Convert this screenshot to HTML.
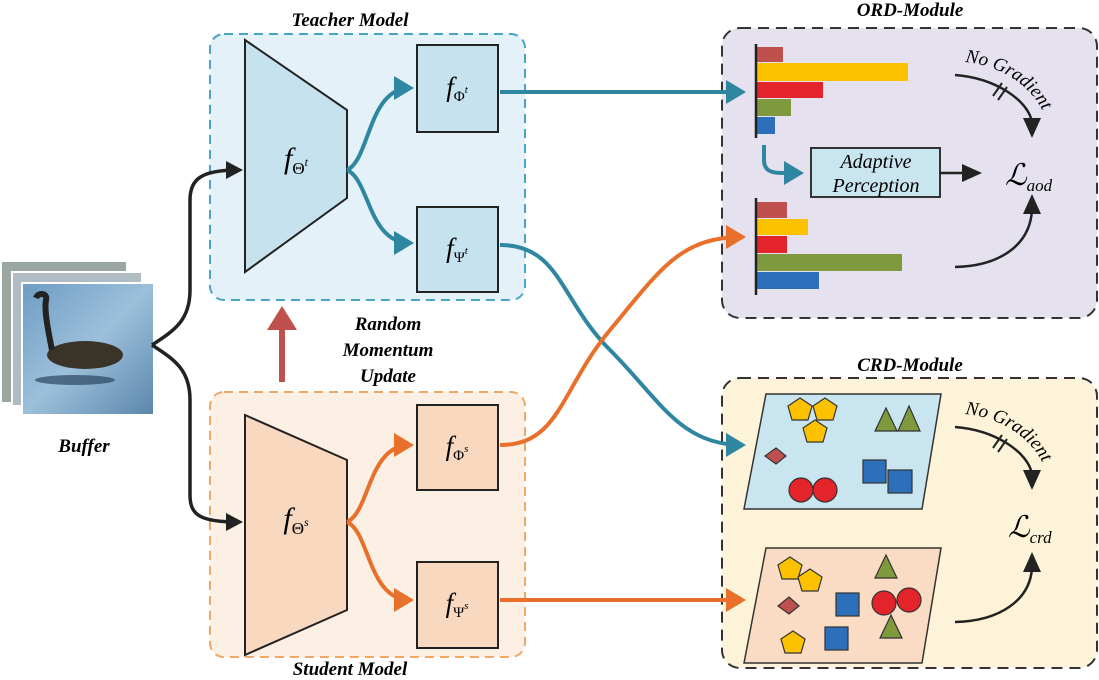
<!DOCTYPE html>
<html><head><meta charset="utf-8"><style>
html,body{margin:0;padding:0;background:#fff}
svg{display:block}
text{font-family:"Liberation Serif",serif}
.t{font-weight:bold;font-style:italic;font-size:19px}
</style></head><body>
<svg width="1099" height="680" viewBox="0 0 1099 680" xmlns="http://www.w3.org/2000/svg">
<defs>
<marker id="ab" markerWidth="9" markerHeight="9" refX="6" refY="4" orient="auto" markerUnits="strokeWidth"><path d="M0,0 L8,4 L0,8 z" fill="#222"/></marker>
<marker id="at" markerWidth="6" markerHeight="6" refX="4" refY="3" orient="auto" markerUnits="strokeWidth"><path d="M0,0 L5,3 L0,6 z" fill="#2e86a0"/></marker>
<marker id="ao" markerWidth="6" markerHeight="6" refX="4" refY="3" orient="auto" markerUnits="strokeWidth"><path d="M0,0 L5,3 L0,6 z" fill="#e8702a"/></marker>
<marker id="ar" markerWidth="5" markerHeight="5" refX="3" refY="2.5" orient="auto" markerUnits="strokeWidth"><path d="M0,0 L4,2.5 L0,5 z" fill="#c0504d"/></marker>
<linearGradient id="wg" x1="0" y1="0" x2="1" y2="1"><stop offset="0" stop-color="#6e9cc4"/><stop offset="0.5" stop-color="#9cc0da"/><stop offset="1" stop-color="#5a86ac"/></linearGradient>
<path id="ng1" d="M965,62 C1005,66 1040,90 1050,130"/>
<path id="ng2" d="M965,414 C1005,418 1040,442 1050,482"/>
</defs>

<rect x="210" y="34" width="315" height="266" rx="14" fill="#e4f1f8" stroke="#4aa3c8" stroke-width="2" stroke-dasharray="9,6"/>
<rect x="210" y="392" width="315" height="265" rx="14" fill="#fcefe4" stroke="#f0a868" stroke-width="2" stroke-dasharray="9,6"/>
<rect x="722" y="28" width="375" height="290" rx="18" fill="#e6e1ee" stroke="#333" stroke-width="2" stroke-dasharray="11,7"/>
<rect x="722" y="378" width="375" height="290" rx="18" fill="#fdf3d8" stroke="#333" stroke-width="2" stroke-dasharray="11,7"/>
<text class="t" x="350" y="26" text-anchor="middle">Teacher Model</text>
<text class="t" x="350" y="675" text-anchor="middle">Student Model</text>
<text class="t" x="910" y="16" text-anchor="middle">ORD-Module</text>
<text class="t" x="910" y="371" text-anchor="middle">CRD-Module</text>

<rect x="2" y="262" width="124" height="140" fill="#9aa6a0"/>
<rect x="12" y="272" width="130" height="134" fill="#b0bcc4" stroke="#fff" stroke-width="2"/>
<rect x="22" y="283" width="132" height="132" fill="url(#wg)" stroke="#fff" stroke-width="2"/>
<ellipse cx="85" cy="355" rx="38" ry="14" fill="#3a3328"/>
<path d="M52,350 C48,330 44,310 46,300 C48,293 38,292 36,298" stroke="#222" stroke-width="6" fill="none"/>
<ellipse cx="75" cy="380" rx="40" ry="5" fill="#2c4660" opacity="0.7"/>
<text class="t" x="84" y="452" text-anchor="middle">Buffer</text>

<path d="M152,345 C175,330 190,320 190,290 L190,200 C190,180 200,170 238,170" stroke="#222" stroke-width="3.5" fill="none" marker-end="url(#ar2)"/>
<path d="M152,345 C175,360 190,370 190,400 L190,495 C190,515 200,522 238,522" stroke="#222" stroke-width="3.5" fill="none"/>
<polygon points="226,161 243,170 226,179" fill="#222"/>
<polygon points="226,513 243,522 226,531" fill="#222"/>

<polygon points="245,40 347,110 347,198 245,272" fill="#c5e2ee" stroke="#222" stroke-width="2"/>
<polygon points="245,415 347,460 347,610 245,655" fill="#f9d8c0" stroke="#222" stroke-width="2"/>
<text x="296" y="168" text-anchor="middle" font-size="30" font-style="italic">f<tspan font-size="17" dy="6" font-style="normal">Θ</tspan><tspan font-size="12" dy="-8" font-style="italic">t</tspan></text>
<text x="296" y="528" text-anchor="middle" font-size="30" font-style="italic">f<tspan font-size="17" dy="6" font-style="normal">Θ</tspan><tspan font-size="12" dy="-8" font-style="italic">s</tspan></text>

<rect x="417" y="45" width="81" height="87" fill="#c5e2ee" stroke="#222" stroke-width="2"/>
<rect x="417" y="207" width="81" height="85" fill="#c5e2ee" stroke="#222" stroke-width="2"/>
<rect x="417" y="405" width="81" height="85" fill="#f9d8c0" stroke="#222" stroke-width="2"/>
<rect x="417" y="562" width="81" height="86" fill="#f9d8c0" stroke="#222" stroke-width="2"/>
<g font-size="27" font-style="italic" text-anchor="middle">
<text x="457" y="96">f<tspan font-size="15" dy="5" font-style="normal">Φ</tspan><tspan font-size="11" dy="-8">t</tspan></text>
<text x="457" y="257">f<tspan font-size="15" dy="5" font-style="normal">Ψ</tspan><tspan font-size="11" dy="-8">t</tspan></text>
<text x="457" y="455">f<tspan font-size="15" dy="5" font-style="normal">Φ</tspan><tspan font-size="11" dy="-8">s</tspan></text>
<text x="457" y="612">f<tspan font-size="15" dy="5" font-style="normal">Ψ</tspan><tspan font-size="11" dy="-8">s</tspan></text>
</g>

<path d="M347,170 C370,160 368,88 410,88" stroke="#2e86a0" stroke-width="4" fill="none" marker-end="url(#at)"/>
<path d="M347,170 C370,180 368,243 410,243" stroke="#2e86a0" stroke-width="4" fill="none" marker-end="url(#at)"/>
<path d="M347,522 C370,512 368,445 410,445" stroke="#e8702a" stroke-width="4" fill="none" marker-end="url(#ao)"/>
<path d="M347,522 C370,532 368,600 410,600" stroke="#e8702a" stroke-width="4" fill="none" marker-end="url(#ao)"/>

<line x1="282" y1="382" x2="282" y2="312" stroke="#c0504d" stroke-width="6" marker-end="url(#ar)"/>
<text class="t" x="388" y="330" text-anchor="middle">Random</text>
<text class="t" x="388" y="356" text-anchor="middle">Momentum</text>
<text class="t" x="388" y="382" text-anchor="middle">Update</text>

<path d="M500,92 L742,92" stroke="#2e86a0" stroke-width="4" fill="none" marker-end="url(#at)"/>
<path d="M500,245 C560,245 560,300 610,350 C660,400 680,445 742,445" stroke="#2e86a0" stroke-width="4" fill="none" marker-end="url(#at)"/>
<path d="M500,445 C560,445 560,390 610,330 C660,270 680,237 742,237" stroke="#e8702a" stroke-width="4" fill="none" marker-end="url(#ao)"/>
<path d="M500,600 L742,600" stroke="#e8702a" stroke-width="4" fill="none" marker-end="url(#ao)"/>

<rect x="757" y="47" width="26" height="15" fill="#c0504d"/>
<rect x="757" y="63" width="151" height="18" fill="#fcc200"/>
<rect x="757" y="82" width="66" height="16" fill="#e3242b"/>
<rect x="757" y="99" width="34" height="17" fill="#7f9a3d"/>
<rect x="757" y="117" width="18" height="17" fill="#2d6fb8"/>
<line x1="756" y1="44" x2="756" y2="138" stroke="#222" stroke-width="2.5"/>
<rect x="757" y="202" width="30" height="16" fill="#c0504d"/>
<rect x="757" y="219" width="51" height="16" fill="#fcc200"/>
<rect x="757" y="236" width="30" height="17" fill="#e3242b"/>
<rect x="757" y="254" width="145" height="17" fill="#7f9a3d"/>
<rect x="757" y="272" width="62" height="17" fill="#2d6fb8"/>
<line x1="756" y1="198" x2="756" y2="295" stroke="#222" stroke-width="2.5"/>
<path d="M764,145 L764,160 C764,170 770,173 782,173 L800,173" stroke="#2e86a0" stroke-width="4" fill="none" marker-end="url(#at)"/>
<rect x="811" y="148" width="129" height="49" fill="#c9e5ef" stroke="#333" stroke-width="2"/>
<text x="876" y="168" text-anchor="middle" font-size="20" font-style="italic">Adaptive</text>
<text x="876" y="192" text-anchor="middle" font-size="20" font-style="italic">Perception</text>
<line x1="940" y1="173" x2="965" y2="173" stroke="#222" stroke-width="2.5"/>
<polygon points="962,164 982,173 962,182" fill="#222"/>
<text x="1005" y="185" font-size="30" font-style="italic">ℒ<tspan font-size="17" dy="6">aod</tspan></text>
<path d="M955,75 C995,78 1028,100 1032,122" stroke="#222" stroke-width="2.5" fill="none"/>
<polygon points="1023,118 1041,118 1032,138" fill="#222"/>
<path d="M955,267 C1000,266 1030,245 1032,210" stroke="#222" stroke-width="2.5" fill="none"/>
<polygon points="1023,214 1041,214 1032,194" fill="#222"/>
<line x1="993" y1="96" x2="1002" y2="83" stroke="#222" stroke-width="2"/><line x1="998" y1="100" x2="1007" y2="87" stroke="#222" stroke-width="2"/>
<text font-size="19" font-style="italic"><textPath href="#ng1">No Gradient</textPath></text>

<polygon points="766,394 941,394 922,509 744,509" fill="#c9e5ef" stroke="#333" stroke-width="1.5"/>
<polygon points="766,548 941,548 922,663 744,663" fill="#fadcc4" stroke="#333" stroke-width="1.5"/>
<g stroke="#333" stroke-width="1.2">
<polygon points="800,398 812,406 808,420 792,420 788,406" fill="#fcc200"/>
<polygon points="825,398 837,406 833,420 817,420 813,406" fill="#fcc200"/>
<polygon points="815,420 827,428 823,442 807,442 803,428" fill="#fcc200"/>
<polygon points="886,408 875,431 897,431" fill="#7f9a3d"/>
<polygon points="909,406 898,431 920,431" fill="#7f9a3d"/>
<polygon points="776,448 786,456 776,464 765,456" fill="#c0504d"/>
<rect x="863" y="460" width="23" height="23" fill="#2d6fb8"/>
<rect x="888" y="470" width="24" height="23" fill="#2d6fb8"/>
<circle cx="801" cy="490" r="12" fill="#e3242b"/>
<circle cx="825" cy="490" r="12" fill="#e3242b"/>
<polygon points="790,557 802,565 798,579 782,579 778,565" fill="#fcc200"/>
<polygon points="810,569 822,577 818,591 802,591 798,577" fill="#fcc200"/>
<polygon points="793,631 805,639 801,653 785,653 781,639" fill="#fcc200"/>
<polygon points="886,555 875,578 897,578" fill="#7f9a3d"/>
<polygon points="891,615 880,638 902,638" fill="#7f9a3d"/>
<polygon points="789,597 799,606 789,614 778,606" fill="#c0504d"/>
<rect x="836" y="593" width="23" height="23" fill="#2d6fb8"/>
<rect x="825" y="627" width="23" height="23" fill="#2d6fb8"/>
<circle cx="884" cy="603" r="12" fill="#e3242b"/>
<circle cx="909" cy="600" r="12" fill="#e3242b"/>
</g>
<text x="1008" y="537" font-size="30" font-style="italic">ℒ<tspan font-size="17" dy="6">crd</tspan></text>
<path d="M955,427 C995,430 1028,452 1032,474" stroke="#222" stroke-width="2.5" fill="none"/>
<polygon points="1023,470 1041,470 1032,490" fill="#222"/>
<path d="M955,622 C1000,621 1030,600 1032,568" stroke="#222" stroke-width="2.5" fill="none"/>
<polygon points="1023,572 1041,572 1032,552" fill="#222"/>
<line x1="993" y1="448" x2="1002" y2="435" stroke="#222" stroke-width="2"/><line x1="998" y1="452" x2="1007" y2="439" stroke="#222" stroke-width="2"/>
<text font-size="19" font-style="italic"><textPath href="#ng2">No Gradient</textPath></text>
</svg>
</body></html>
